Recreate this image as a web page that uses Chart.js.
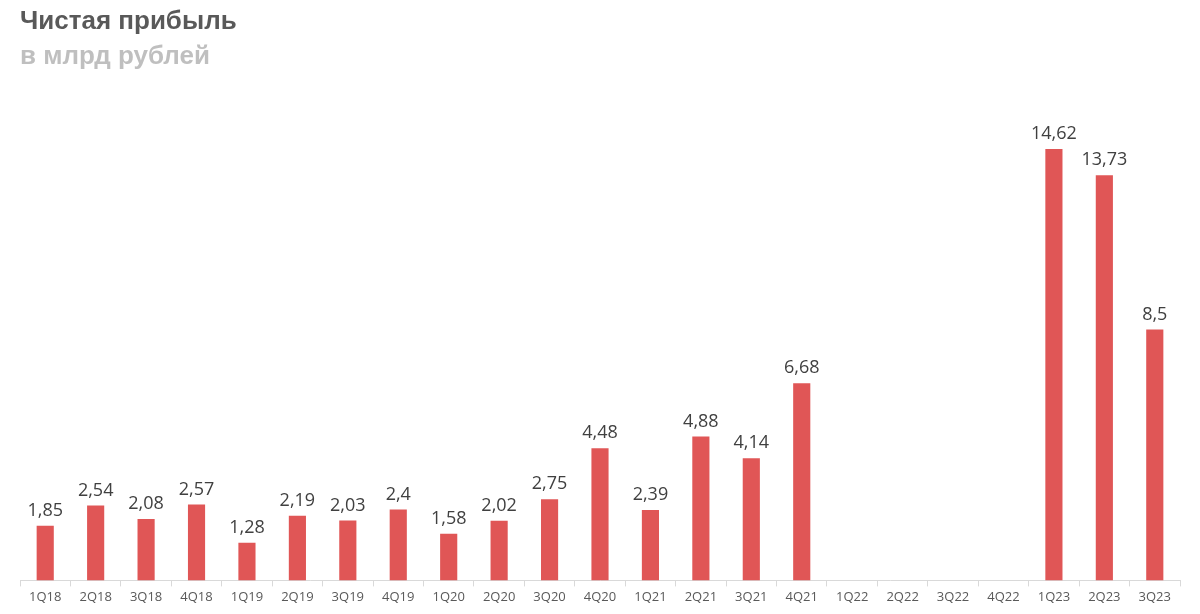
<!DOCTYPE html>
<html>
<head>
<meta charset="utf-8">
<script src="https://cdn.jsdelivr.net/npm/chart.js@4"></script>
<style>
  body { margin: 0; background: #fff; }
  #wrap { width: 1200px; height: 614px; }
</style>
</head>
<body>
<div id="wrap"><canvas id="myChart"></canvas></div>
<script>
const quarters = ['1Q18', '2Q18', '3Q18', '4Q18', '1Q19', '2Q19', '3Q19', '4Q19', '1Q20', '2Q20', '3Q20', '4Q20',
    '1Q21', '2Q21', '3Q21', '4Q21', '1Q22', '2Q22', '3Q22', '4Q22', '1Q23', '2Q23', '3Q23'];

// net profit, bln rub (2022 not published)
const profit = [1.85, 2.54, 2.08, 2.57, 1.28, 2.19, 2.03, 2.4, 1.58, 2.02, 2.75, 4.48,
    2.39, 4.88, 4.14, 6.68, null, null, null, null, 14.62, 13.73, 8.5];

// labels above bars, comma decimal
const valueLabels = {
    id: 'valueLabels',
    afterDatasetsDraw(chart) {
        const ctx = chart.ctx;
        ctx.save();
        ctx.font = '18px "Open Sans", sans-serif';
        ctx.fillStyle = '#404040';
        ctx.textAlign = 'center';
        ctx.textBaseline = 'bottom';
        chart.getDatasetMeta(0).data.forEach((bar, i) => {
            const v = profit[i];
            if (v == null) return;
            ctx.fillText(String(v).replace('.', ','), bar.x, bar.y - 6);
        });
        ctx.restore();
    }
};

const chart = document.getElementById('myChart').getContext('2d');
new Chart(chart, {
    type: 'bar',
    data: {
        labels: quarters,
        datasets: [{
            data: profit,
            backgroundColor: '#e05656',
            barPercentage: 0.34,
            categoryPercentage: 1
        }]
    },
    options: {
        responsive: true,
        maintainAspectRatio: false,
        animation: false,
        layout: { padding: { left: 20, right: 20, top: 0, bottom: 6 } },
        plugins: {
            legend: { display: false },
            tooltip: { enabled: false },
            title: {
                display: true,
                text: 'Чистая прибыль',
                align: 'start',
                color: '#595959',
                font: { family: '"Liberation Sans", Arial, sans-serif', size: 26, weight: 'bold' },
                padding: { top: 6, bottom: 4 }
            },
            subtitle: {
                display: true,
                text: 'в млрд рублей',
                align: 'start',
                color: '#bfbfbf',
                font: { family: '"Liberation Sans", Arial, sans-serif', size: 26, weight: 'bold' },
                padding: { bottom: 30 }
            }
        },
        scales: {
            x: {
                grid: { offset: true, drawOnChartArea: false, drawTicks: true, tickLength: 6, color: '#d9d9d9' },
                border: { color: '#d9d9d9' },
                ticks: { color: '#595959', font: { family: '"Open Sans", sans-serif', size: 13 }, maxRotation: 0, autoSkip: false }
            },
            y: {
                display: false,
                min: 0,
                max: 16.2
            }
        }
    },
    plugins: [valueLabels]
});
</script>
</body>
</html>
